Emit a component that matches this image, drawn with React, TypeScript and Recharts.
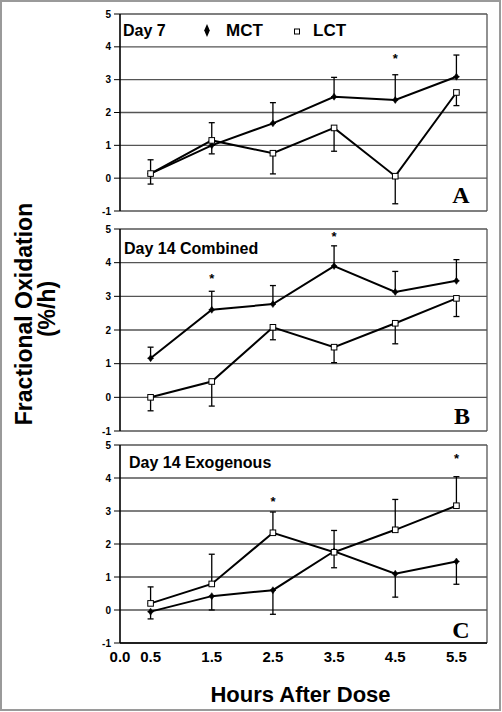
import {
  LineChart,
  Line,
  XAxis,
  YAxis,
  CartesianGrid,
  ErrorBar,
  ReferenceLine,
  ReferenceDot,
  Label,
} from "recharts";

const hours = [0.5, 1.5, 2.5, 3.5, 4.5, 5.5];
const xTicks = [0, 0.5, 1.5, 2.5, 3.5, 4.5, 5.5];
const yTicks = [-1, 0, 1, 2, 3, 4, 5];

// Day 7 (panel A): MCT bars go up, LCT bars go down
const mctDay7 = [0.14, 1.0, 1.67, 2.48, 2.38, 3.09];
const mctDay7Err = [0.42, 0.69, 0.63, 0.59, 0.77, 0.66];
const lctDay7 = [0.14, 1.15, 0.76, 1.53, 0.06, 2.61];
const lctDay7Err = [0.32, 0.41, 0.63, 0.71, 0.84, 0.4];
const starsDay7 = [{ x: 4.5, y: 3.73 }];

// Day 14 combined (panel B)
const mctComb = [1.16, 2.6, 2.77, 3.9, 3.13, 3.46];
const mctCombErr = [0.33, 0.55, 0.55, 0.6, 0.61, 0.63];
const lctComb = [0.0, 0.47, 2.08, 1.49, 2.2, 2.94];
const lctCombErr = [0.4, 0.73, 0.37, 0.46, 0.61, 0.54];
const starsComb = [
  { x: 1.5, y: 3.61 },
  { x: 3.5, y: 4.87 },
];

// Day 14 exogenous (panel C): here LCT bars go up, MCT bars go down
const mctExo = [-0.05, 0.42, 0.6, 1.78, 1.1, 1.47];
const mctExoErr = [0.22, 0.42, 0.73, 0.5, 0.71, 0.69];
const lctExo = [0.2, 0.79, 2.34, 1.75, 2.43, 3.16];
const lctExoErr = [0.5, 0.9, 0.63, 0.66, 0.92, 0.88];
const starsExo = [
  { x: 2.5, y: 3.38 },
  { x: 5.5, y: 4.69 },
];

const FONT = "'Liberation Sans', Arial, sans-serif";

const day7Data = hours.map((h, i) => ({
  x: h,
  mct: mctDay7[i],
  lct: lctDay7[i],
  mctErr: [0, mctDay7Err[i]],
  lctErr: [lctDay7Err[i], 0],
}));

const combData = hours.map((h, i) => ({
  x: h,
  mct: mctComb[i],
  lct: lctComb[i],
  mctErr: [0, mctCombErr[i]],
  lctErr: [lctCombErr[i], 0],
}));

const exoData = hours.map((h, i) => ({
  x: h,
  mct: mctExo[i],
  lct: lctExo[i],
  mctErr: [mctExoErr[i], 0],
  lctErr: [0, lctExoErr[i]],
}));

const Diamond = (props: any) => {
  const { cx, cy, index } = props;
  if (cx == null || cy == null) return <g key={`d-${index}`} />;
  return (
    <polygon
      key={`d-${index}`}
      points={`${cx},${cy - 3.5} ${cx + 2.5},${cy} ${cx},${cy + 3.5} ${cx - 2.5},${cy}`}
      fill="#000"
      stroke="#000"
      strokeWidth={0.5}
    />
  );
};

const Square = (props: any) => {
  const { cx, cy, index } = props;
  if (cx == null || cy == null) return <g key={`s-${index}`} />;
  return (
    <rect
      key={`s-${index}`}
      x={cx - 2.8}
      y={cy - 2.8}
      width={5.6}
      height={5.6}
      fill="#fff"
      stroke="#000"
      strokeWidth={1}
    />
  );
};

interface PanelProps {
  data: any[];
  stars: { x: number; y: number }[];
  top: number;
  height: number;
  marginTop: number;
  marginBottom: number;
  showX?: boolean;
}

function Panel({ data, stars, top, height, marginTop, marginBottom, showX }: PanelProps) {
  return (
    <div style={{ position: "absolute", left: 0, top, width: 502, height }}>
      <LineChart
        width={502}
        height={height}
        data={data}
        margin={{ top: marginTop, right: 15, bottom: marginBottom, left: 0 }}
      >
        <CartesianGrid vertical={false} stroke="#555" strokeWidth={1.3} />
        <XAxis
          dataKey="x"
          type="number"
          domain={[0, 6]}
          ticks={xTicks}
          hide={!showX}
          height={69}
          tickLine={false}
          axisLine={{ stroke: "#000", strokeWidth: 1.6 }}
          tickFormatter={(v) => v.toFixed(1)}
          tick={{ fill: "#000", fontSize: 15, fontWeight: "bold", fontFamily: FONT }}
        >
          {showX && (
            <Label
              value="Hours After Dose"
              position="insideBottom"
              offset={10}
              dx={-3}
              style={{ fill: "#000", fontSize: 22, fontWeight: "bold", fontFamily: FONT }}
            />
          )}
        </XAxis>
        <YAxis
          type="number"
          domain={[-1, 5]}
          ticks={yTicks}
          width={120}
          tickSize={6}
          tickMargin={3}
          axisLine={{ stroke: "#000", strokeWidth: 1.6 }}
          tickLine={{ stroke: "#000" }}
          tick={{ fill: "#000", fontSize: 10, fontWeight: "bold", fontFamily: FONT }}
        />
        <ReferenceLine x={6} stroke="#555" strokeWidth={1.3} />
        <Line
          dataKey="mct"
          stroke="#000"
          strokeWidth={2}
          dot={Diamond}
          activeDot={false}
          isAnimationActive={false}
        >
          <ErrorBar dataKey="mctErr" direction="y" width={3} stroke="#000" strokeWidth={1.3} />
        </Line>
        <Line
          dataKey="lct"
          stroke="#000"
          strokeWidth={2}
          dot={Square}
          activeDot={false}
          isAnimationActive={false}
        >
          <ErrorBar dataKey="lctErr" direction="y" width={3} stroke="#000" strokeWidth={1.3} />
        </Line>
        {stars.map((s, i) => (
          <ReferenceDot
            key={i}
            x={s.x}
            y={s.y}
            r={0}
            fill="none"
            stroke="none"
            ifOverflow="visible"
            label={{
              value: "*",
              position: "center",
              dy: 3,
              fill: "#000",
              fontSize: 13,
              fontWeight: "bold",
              fontFamily: FONT,
            }}
          />
        ))}
      </LineChart>
    </div>
  );
}

export default function App() {
  const title = { fontFamily: FONT, fontWeight: "bold", fill: "#000" } as const;
  const letter = {
    fontFamily: "'Liberation Serif', 'Times New Roman', serif",
    fontWeight: "bold",
    fontSize: 24,
    fill: "#000",
  } as const;
  return (
    <div
      style={{
        position: "absolute",
        left: 0,
        top: 0,
        width: 502,
        height: 712,
        background: "#fff",
        overflow: "hidden",
      }}
    >
      <Panel data={day7Data} stars={starsDay7} top={0} height={220} marginTop={14} marginBottom={9} />
      <Panel data={combData} stars={starsComb} top={220} height={219} marginTop={9} marginBottom={8} />
      <Panel data={exoData} stars={starsExo} top={439} height={273} marginTop={6} marginBottom={0} showX />

      <svg
        width={502}
        height={712}
        style={{ position: "absolute", left: 0, top: 0, pointerEvents: "none" }}
      >
        <text
          transform="translate(31.5,314) rotate(-90)"
          textAnchor="middle"
          style={{ ...title, fontSize: 23 }}
        >
          Fractional Oxidation
        </text>
        <text
          transform="translate(55,309) rotate(-90)"
          textAnchor="middle"
          style={{ ...title, fontSize: 23 }}
        >
          (%/h)
        </text>

        <text x={123} y={36} style={{ ...title, fontSize: 16 }}>Day 7</text>
        <polygon points="207,24 209.8,30.5 207,37 204.2,30.5" fill="#000" />
        <text x={226} y={36} style={{ ...title, fontSize: 17 }}>MCT</text>
        <rect x={294.5} y={29} width={5} height={5} fill="#fff" stroke="#000" strokeWidth={1} />
        <text x={313} y={36} style={{ ...title, fontSize: 17 }}>LCT</text>

        <text x={124} y={254} style={{ ...title, fontSize: 16 }}>Day 14 Combined</text>
        <text x={129} y={468} style={{ ...title, fontSize: 16 }}>Day 14 Exogenous</text>

        <text x={461} y={203} textAnchor="middle" style={letter}>A</text>
        <text x={462} y={424} textAnchor="middle" style={letter}>B</text>
        <text x={461} y={638} textAnchor="middle" style={letter}>C</text>

        <rect x={1} y={1} width={499} height={709} fill="none" stroke="#9a9a9a" strokeWidth={2} />
      </svg>
    </div>
  );
}
